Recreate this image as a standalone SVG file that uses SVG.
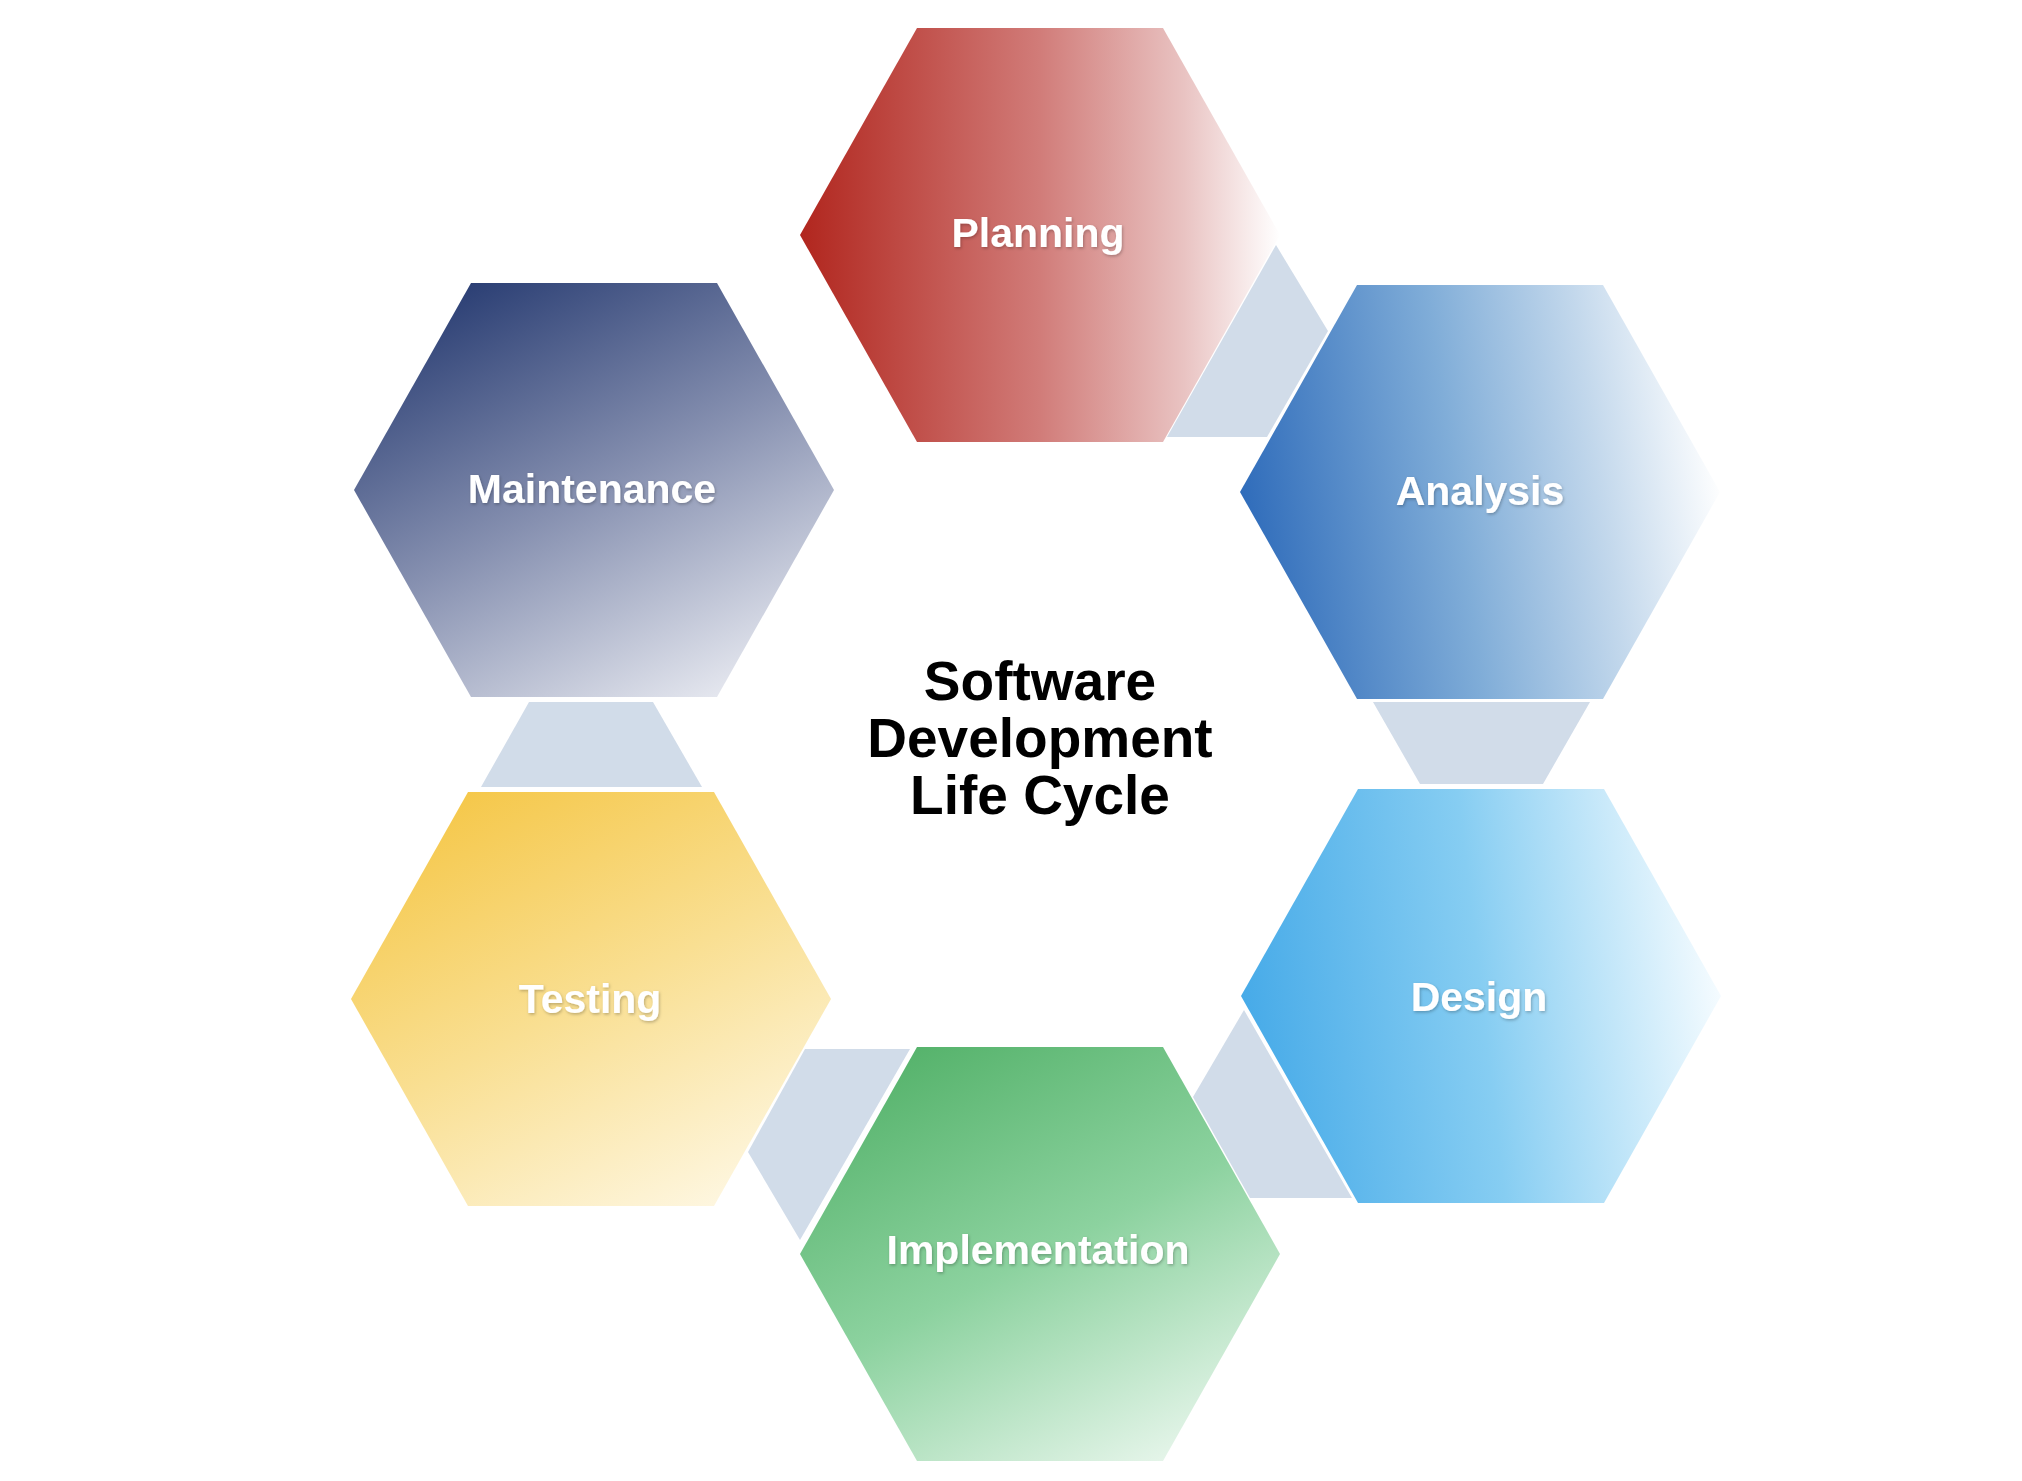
<svg xmlns="http://www.w3.org/2000/svg" width="2022" height="1481" viewBox="0 0 2022 1481">
<style>
.conn{fill:#D1DCE9;}
.lbl{font-family:"Liberation Sans",Arial,sans-serif;font-weight:bold;font-size:41px;fill:#FFFFFF;text-anchor:middle;filter:url(#sh);}
.title{font-family:"Liberation Sans",Arial,sans-serif;font-weight:bold;font-size:55px;fill:#000000;text-anchor:middle;}
</style>
<defs>
<filter id="sh" x="-10%" y="-30%" width="120%" height="160%">
<feDropShadow dx="1" dy="1.5" stdDeviation="1.5" flood-color="#000000" flood-opacity="0.25"/>
</filter>
<polygon id="hex" points="-240,0 -123,-207 123,-207 240,0 123,207 -123,207"/>
<linearGradient id="gPlan" x1="0" y1="0.5" x2="1" y2="0.5">
<stop offset="0" stop-color="#B1261E"/>
<stop offset="0.5" stop-color="#D17C79"/>
<stop offset="0.8" stop-color="#E9C3C2"/>
<stop offset="1" stop-color="#FFFFFF"/>
</linearGradient>
<linearGradient id="gAna" x1="0" y1="0.56" x2="1" y2="0.44">
<stop offset="0" stop-color="#2E6BBA"/>
<stop offset="0.45" stop-color="#80ADD8"/>
<stop offset="0.75" stop-color="#C3D8EC"/>
<stop offset="1" stop-color="#FFFFFF"/>
</linearGradient>
<linearGradient id="gDes" x1="0" y1="0.55" x2="1" y2="0.45">
<stop offset="0" stop-color="#46AAE8"/>
<stop offset="0.5" stop-color="#86CDF2"/>
<stop offset="1" stop-color="#F6FCFF"/>
</linearGradient>
<linearGradient id="gImp" x1="0.2" y1="0" x2="0.8" y2="1">
<stop offset="0" stop-color="#54B26A"/>
<stop offset="0.5" stop-color="#8CD29F"/>
<stop offset="1" stop-color="#E8F6EC"/>
</linearGradient>
<linearGradient id="gTest" x1="0.2" y1="0" x2="0.8" y2="1">
<stop offset="0" stop-color="#F5C748"/>
<stop offset="0.5" stop-color="#F9DF92"/>
<stop offset="1" stop-color="#FEF7E2"/>
</linearGradient>
<linearGradient id="gMaint" x1="0.2" y1="0" x2="0.8" y2="1">
<stop offset="0" stop-color="#283C72"/>
<stop offset="0.5" stop-color="#8690B0"/>
<stop offset="1" stop-color="#E8EAF1"/>
</linearGradient>
</defs>
<rect x="0" y="0" width="2022" height="1481" fill="#FFFFFF"/>
<g id="connectors">
<polygon class="conn" points="1276,245 1328,331 1267,437 1167,437"/>
<polygon class="conn" points="1373,702 1590,702 1543,784 1420,784"/>
<polygon class="conn" points="1244,1010 1352,1198 1250,1198 1193,1097"/>
<polygon class="conn" points="805,1049 910,1049 800,1240 748,1152"/>
<polygon class="conn" points="529,702 653,702 702,787 481,787"/>
</g>
<g id="planning">
<use href="#hex" transform="translate(1040,235)" fill="url(#gPlan)"/>
<text class="lbl" x="1038" y="247">Planning</text>
</g>
<g id="analysis">
<use href="#hex" transform="translate(1480,492)" fill="url(#gAna)"/>
<text class="lbl" x="1487" y="505" dx="-7">Analysis</text>
</g>
<g id="design">
<use href="#hex" transform="translate(1481,996)" fill="url(#gDes)"/>
<text class="lbl" x="1486" y="1011" dx="-7">Design</text>
</g>
<g id="implementation">
<use href="#hex" transform="translate(1040,1254)" fill="url(#gImp)"/>
<text class="lbl" x="1038" y="1264">Implementation</text>
</g>
<g id="testing">
<use href="#hex" transform="translate(591,999)" fill="url(#gTest)"/>
<text class="lbl" x="590" y="1013">Testing</text>
</g>
<g id="maintenance">
<use href="#hex" transform="translate(594,490)" fill="url(#gMaint)"/>
<text class="lbl" x="592" y="503">Maintenance</text>
</g>
<g id="center">
<text class="title" x="1040" y="700">Software</text>
<text class="title" x="1040" y="757">Development</text>
<text class="title" x="1040" y="814">Life Cycle</text>
</g>
</svg>
